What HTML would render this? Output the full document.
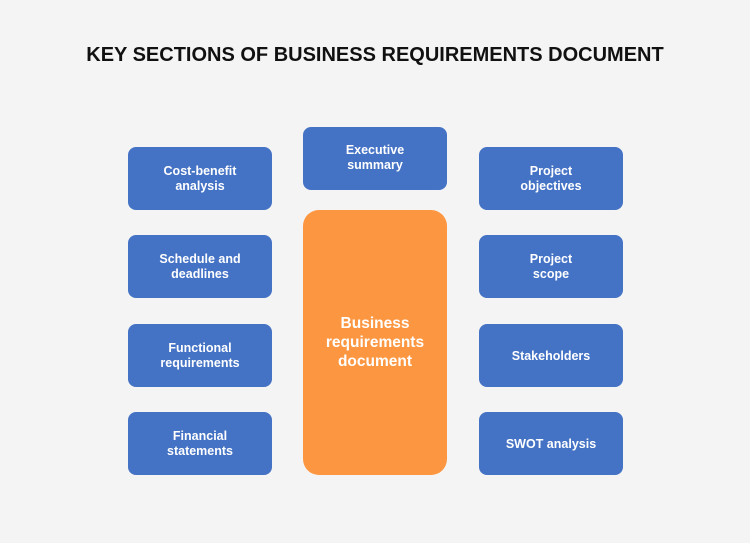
<!DOCTYPE html><html><head><style>
body{margin:0;width:750px;height:543px;background:#f4f4f4;font-family:"Liberation Sans",sans-serif;position:relative;overflow:hidden}
h1{position:absolute;top:44px;left:0;width:750px;margin:0;text-align:center;font-size:20px;font-weight:bold;color:#111}
.b{position:absolute;width:144px;height:63px;background:#4472c4;border-radius:8px;color:#fff;font-weight:bold;font-size:12.5px;display:flex;align-items:center;justify-content:center;text-align:center;line-height:15px;padding-top:1px;box-sizing:border-box}
.o{position:absolute;left:303px;top:210px;width:144px;height:265px;background:#fd9640;border-radius:16px;color:#fff;font-weight:bold;font-size:15.5px;display:flex;align-items:center;justify-content:center;text-align:center;line-height:19px}
</style></head><body>
<h1>KEY SECTIONS OF BUSINESS REQUIREMENTS DOCUMENT</h1>
<div class="b" style="left:128px;top:147px">Cost-benefit<br>analysis</div>
<div class="b" style="left:128px;top:235px">Schedule and<br>deadlines</div>
<div class="b" style="left:128px;top:324px">Functional<br>requirements</div>
<div class="b" style="left:128px;top:412px">Financial<br>statements</div>
<div class="b" style="left:303px;top:127px;align-items:flex-start;padding-top:16px">Executive<br>summary</div>
<div class="o">Business<br>requirements<br>document</div>
<div class="b" style="left:479px;top:147px">Project<br>objectives</div>
<div class="b" style="left:479px;top:235px">Project<br>scope</div>
<div class="b" style="left:479px;top:324px">Stakeholders</div>
<div class="b" style="left:479px;top:412px">SWOT analysis</div>
</body></html>
